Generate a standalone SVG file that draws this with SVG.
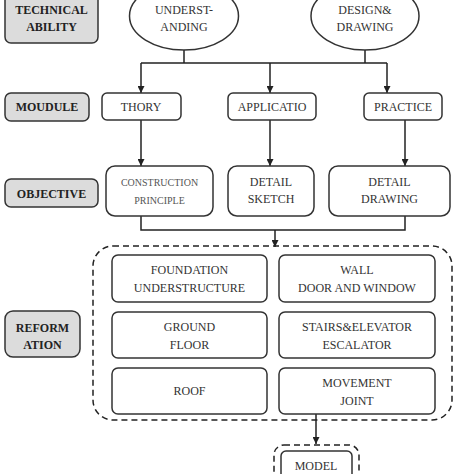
<svg xmlns="http://www.w3.org/2000/svg" width="474" height="474" viewBox="0 0 474 474">
<style>
.lbl{fill:#dcdcdc;stroke:#333;stroke-width:1.5}
.box{fill:#fff;stroke:#333;stroke-width:1.5}
.dash{fill:none;stroke:#222;stroke-width:1.5;stroke-dasharray:6,4}
.ln{fill:none;stroke:#222;stroke-width:1.5}
text{font-family:"Liberation Serif","Times New Roman",serif;font-size:12px;fill:#333;text-anchor:middle}
.b{font-weight:bold;fill:#222}
.s{font-size:10px;fill:#555}
</style>
<defs>
<marker id="ah" viewBox="0 0 10 10" refX="10" refY="5" markerWidth="7" markerHeight="7" markerUnits="userSpaceOnUse" orient="auto">
<path d="M0,0 L10,5 L0,10 z" fill="#222"/>
</marker>
</defs>
<rect width="474" height="474" fill="#fff"/>
<g id="connectors">
<path class="ln" d="M184,50 V63 M365,50 V63 M141,63 H387"/>
<path class="ln" d="M141,63 V93" marker-end="url(#ah)"/>
<path class="ln" d="M270,63 V93" marker-end="url(#ah)"/>
<path class="ln" d="M387,63 V93" marker-end="url(#ah)"/>
<path class="ln" d="M141,120 V166" marker-end="url(#ah)"/>
<path class="ln" d="M270,120 V166" marker-end="url(#ah)"/>
<path class="ln" d="M405,120 V166" marker-end="url(#ah)"/>
<path class="ln" d="M141,216 V230 H405 V216"/>
<path class="ln" d="M275,230 V247" marker-end="url(#ah)"/>
<path class="ln" d="M316,414 V444" marker-end="url(#ah)"/>
</g>
<g id="technical-ability"><rect class="lbl" x="5" y="-6" width="93" height="49" rx="6"/><text class="b" x="51.5" y="14">TECHNICAL</text><text class="b" x="51.5" y="31">ABILITY</text></g>
<g id="moudule"><rect class="lbl" x="5" y="93" width="84" height="28" rx="6"/><text class="b" x="47" y="111">MOUDULE</text></g>
<g id="objective"><rect class="lbl" x="5" y="179" width="93" height="28" rx="6"/><text class="b" x="51.5" y="198">OBJECTIVE</text></g>
<g id="reformation"><rect class="lbl" x="5" y="311" width="75" height="46" rx="8"/><text class="b" x="42.5" y="332">REFORM</text><text class="b" x="42.5" y="349">ATION</text></g>
<g id="understanding"><ellipse class="box" cx="184" cy="16" rx="54.5" ry="34"/><text x="184" y="14">UNDERST-</text><text x="184" y="31">ANDING</text></g>
<g id="design-drawing"><ellipse class="box" cx="365" cy="16" rx="54" ry="34"/><text x="365" y="14">DESIGN&amp;</text><text x="365" y="31">DRAWING</text></g>
<g id="thory"><rect class="box" x="102" y="93" width="79" height="27" rx="5"/><text x="141" y="111">THORY</text></g>
<g id="applicatio"><rect class="box" x="228" y="93" width="88" height="27" rx="5"/><text x="272" y="111">APPLICATIO</text></g>
<g id="practice"><rect class="box" x="364" y="93" width="78" height="27" rx="5"/><text x="403" y="111">PRACTICE</text></g>
<g id="construction-principle"><rect class="box" x="106" y="166" width="107" height="50" rx="9"/><text class="s" x="159.5" y="186">CONSTRUCTION</text><text class="s" x="159.5" y="204">PRINCIPLE</text></g>
<g id="detail-sketch"><rect class="box" x="228" y="166" width="86" height="50" rx="9"/><text x="271" y="186">DETAIL</text><text x="271" y="203">SKETCH</text></g>
<g id="detail-drawing"><rect class="box" x="329" y="166" width="121" height="50" rx="9"/><text x="389.5" y="186">DETAIL</text><text x="389.5" y="203">DRAWING</text></g>
<g id="reformation-group"><rect class="dash" x="93" y="246" width="359" height="174" rx="20"/></g>
<g id="foundation"><rect class="box" x="112" y="255" width="155" height="47" rx="6"/><text x="189.5" y="274">FOUNDATION</text><text x="189.5" y="292">UNDERSTRUCTURE</text></g>
<g id="wall"><rect class="box" x="279" y="255" width="156" height="47" rx="6"/><text x="357" y="274">WALL</text><text x="357" y="292">DOOR AND WINDOW</text></g>
<g id="ground-floor"><rect class="box" x="112" y="312" width="155" height="46" rx="6"/><text x="189.5" y="331">GROUND</text><text x="189.5" y="349">FLOOR</text></g>
<g id="stairs"><rect class="box" x="279" y="312" width="156" height="46" rx="6"/><text x="357" y="331">STAIRS&amp;ELEVATOR</text><text x="357" y="349">ESCALATOR</text></g>
<g id="roof"><rect class="box" x="112" y="368" width="155" height="46" rx="6"/><text x="189.5" y="395">ROOF</text></g>
<g id="movement-joint"><rect class="box" x="279" y="368" width="156" height="46" rx="6"/><text x="357" y="387">MOVEMENT</text><text x="357" y="405">JOINT</text></g>
<g id="model"><rect class="dash" x="274" y="445" width="85" height="40" rx="10"/><rect class="box" x="281" y="451" width="71" height="34" rx="5"/><text x="316" y="470">MODEL</text></g>
</svg>
